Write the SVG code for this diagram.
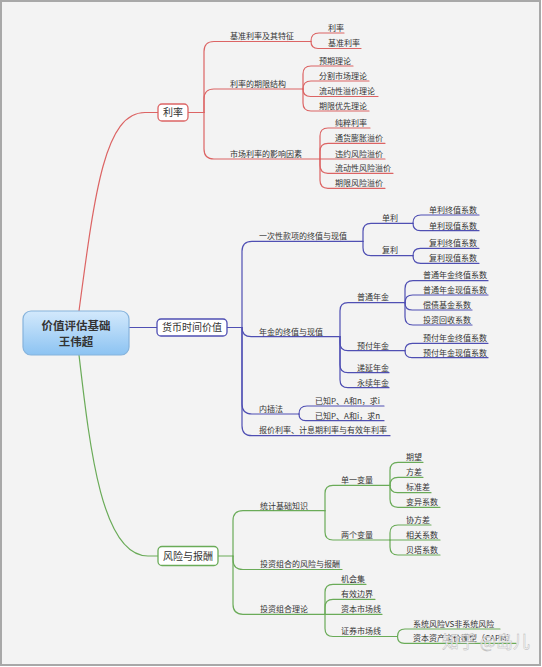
<svg xmlns="http://www.w3.org/2000/svg" width="542" height="667" viewBox="0 0 542 667">
<defs>
<linearGradient id="rootg" x1="0" y1="0" x2="0" y2="1">
<stop offset="0" stop-color="#d3e9fc"/>
<stop offset="1" stop-color="#8cc3f2"/>
</linearGradient>
</defs>
<style>
.c{fill:none;stroke-width:1.2;stroke-linecap:round}
.r{stroke:#dc6464}
.b{stroke:#4f4fb3}
.g{stroke:#6aab58}
text{font-family:"Noto Sans CJK SC","Noto Sans",sans-serif;fill:#333}
.t{font-size:8px}
.n{font-size:10px;text-anchor:middle}
.box{fill:#fff;stroke-width:1.3}
</style>
<rect x="1" y="1" width="539" height="664" fill="#f3f3f3" stroke="#a8a8a8" stroke-width="2"/>
<g id="connectors">
<g class="c r">
<path d="M79 311C95 190 105 112.5 145 112.5H158"/>
<path d="M188 112.5H204"/>
<path d="M204 112.5V51.5Q204 41.5 214 41.5H311"/>
<path d="M204 112.5V99Q204 89 214 89H303"/>
<path d="M204 112.5V149Q204 159 214 159H320"/>
<path d="M311 41.5V41Q311 33 319 33H344"/>
<path d="M311 41.5Q311 48.5 318 48.5H361"/>
<path d="M303 89V74Q303 66 311 66H353"/>
<path d="M303 89Q303 81 311 81H369"/>
<path d="M303 89Q303 96.5 310.5 96.5H378"/>
<path d="M303 89V103Q303 111 311 111H369"/>
<path d="M320 159V136Q320 128 328 128H370"/>
<path d="M320 159V151.3Q320 143.3 328 143.3H385"/>
<path d="M320 159H385"/>
<path d="M320 159V165.3Q320 173.3 328 173.3H393"/>
<path d="M320 159V180.3Q320 188.3 328 188.3H385"/>
</g>
<g class="c b">
<path d="M129 327.5H157"/>
<path d="M227 327.5H242"/>
<path d="M242 327.5V251.3Q242 241.3 252 241.3H363"/>
<path d="M242 327.5Q242 336.7 251.2 336.7H340"/>
<path d="M242 327.5V404Q242 414 252 414H299"/>
<path d="M242 327.5V425.7Q242 435.7 252 435.7H390"/>
<path d="M363 241.3V231.3Q363 223.3 371 223.3H413"/>
<path d="M363 241.3V247.7Q363 255.7 371 255.7H413"/>
<path d="M413 223.3V223Q413 215 421 215H479"/>
<path d="M413 223.3Q413 230.7 420.4 230.7H479"/>
<path d="M413 255.7Q413 248.3 420.4 248.3H479"/>
<path d="M413 255.7Q413 263.3 420.6 263.3H479"/>
<path d="M340 336.7V310.7Q340 302.7 348 302.7H405"/>
<path d="M340 336.7V342.7Q340 350.7 348 350.7H405"/>
<path d="M340 336.7V364.7Q340 372.7 348 372.7H389"/>
<path d="M340 336.7V379.7Q340 387.7 348 387.7H389"/>
<path d="M405 302.7V288.7Q405 280.7 413 280.7H488"/>
<path d="M405 302.7Q405 295 412.7 295H488"/>
<path d="M405 302.7Q405 310 412.3 310H472"/>
<path d="M405 302.7V317Q405 325 413 325H472"/>
<path d="M405 350.7Q405 343.3 412.4 343.3H488"/>
<path d="M405 350.7Q405 357.7 412 357.7H488"/>
<path d="M299 414Q299 406 307 406H384"/>
<path d="M299 414Q299 420.7 305.7 420.7H384"/>
</g>
<g class="c g">
<path d="M79 355C90 450 102 556 148 556H158"/>
<path d="M218 556H233"/>
<path d="M233 556V520.7Q233 510.7 243 510.7H325"/>
<path d="M233 556V559.5Q233 569.5 243 569.5H342"/>
<path d="M233 556V604.3Q233 614.3 243 614.3H325"/>
<path d="M325 510.7V493.3Q325 485.3 333 485.3H390"/>
<path d="M325 510.7V532Q325 540 333 540H390"/>
<path d="M390 485.3V470.3Q390 462.3 398 462.3H423"/>
<path d="M390 485.3Q390 477.3 398 477.3H423"/>
<path d="M390 485.3Q390 492.7 397.4 492.7H431"/>
<path d="M390 485.3V499.3Q390 507.3 398 507.3H440"/>
<path d="M390 540V533Q390 525 398 525H431"/>
<path d="M390 540H440"/>
<path d="M390 540V547Q390 555 398 555H440"/>
<path d="M325 614.3V592.3Q325 584.3 333 584.3H366"/>
<path d="M325 614.3V607.3Q325 599.3 333 599.3H375"/>
<path d="M325 614.3H382"/>
<path d="M325 614.3V628.5Q325 636.5 333 636.5H397.5"/>
<path d="M397.5 636.5Q397.5 629 405 629H500"/>
<path d="M397.5 636.5Q397.5 643.3 404.3 643.3H516"/>
</g>
</g>
<g id="root">
<rect x="23" y="311" width="106" height="44" rx="8" fill="url(#rootg)" stroke="#86b3dc" stroke-width="1.2"/>
<text x="76" y="329.5" font-size="11.5" font-weight="bold" text-anchor="middle">价值评估基础</text>
<text x="76" y="346" font-size="11.5" font-weight="bold" text-anchor="middle">王伟超</text>
</g>
<g id="n1"><rect class="box" x="158" y="104" width="30" height="17" rx="4" stroke="#dc6464"/><text class="n" x="173" y="116">利率</text></g>
<g id="n1-1"><text class="t" x="230" y="39">基准利率及其特征</text></g>
<g id="n1-1-1"><text class="t" x="328" y="31">利率</text></g>
<g id="n1-1-2"><text class="t" x="328" y="46">基准利率</text></g>
<g id="n1-2"><text class="t" x="230" y="86.5">利率的期限结构</text></g>
<g id="n1-2-1"><text class="t" x="319" y="64">预期理论</text></g>
<g id="n1-2-2"><text class="t" x="319" y="79">分割市场理论</text></g>
<g id="n1-2-3"><text class="t" x="319" y="94">流动性溢价理论</text></g>
<g id="n1-2-4"><text class="t" x="319" y="109">期限优先理论</text></g>
<g id="n1-3"><text class="t" x="230" y="156.5">市场利率的影响因素</text></g>
<g id="n1-3-1"><text class="t" x="335" y="126">纯粹利率</text></g>
<g id="n1-3-2"><text class="t" x="335" y="141.3">通货膨胀溢价</text></g>
<g id="n1-3-3"><text class="t" x="335" y="156.5">违约风险溢价</text></g>
<g id="n1-3-4"><text class="t" x="335" y="171.3">流动性风险溢价</text></g>
<g id="n1-3-5"><text class="t" x="335" y="186.3">期限风险溢价</text></g>
<g id="n2"><rect class="box" x="157" y="319" width="70" height="17" rx="4" stroke="#4f4fb3"/><text class="n" x="192" y="331">货币时间价值</text></g>
<g id="n2-1"><text class="t" x="259" y="238.7">一次性款项的终值与现值</text></g>
<g id="n2-1-1"><text class="t" x="382" y="221">单利</text></g>
<g id="n2-1-1-1"><text class="t" x="429" y="213">单利终值系数</text></g>
<g id="n2-1-1-2"><text class="t" x="429" y="228.5">单利现值系数</text></g>
<g id="n2-1-2"><text class="t" x="382" y="253.3">复利</text></g>
<g id="n2-1-2-1"><text class="t" x="429" y="246">复利终值系数</text></g>
<g id="n2-1-2-2"><text class="t" x="429" y="261">复利现值系数</text></g>
<g id="n2-2"><text class="t" x="259" y="334.5">年金的终值与现值</text></g>
<g id="n2-2-1"><text class="t" x="357" y="300.3">普通年金</text></g>
<g id="n2-2-1-1"><text class="t" x="423" y="278.3">普通年金终值系数</text></g>
<g id="n2-2-1-2"><text class="t" x="423" y="292.7">普通年金现值系数</text></g>
<g id="n2-2-1-3"><text class="t" x="423" y="307.7">偿债基金系数</text></g>
<g id="n2-2-1-4"><text class="t" x="423" y="322.7">投资回收系数</text></g>
<g id="n2-2-2"><text class="t" x="357" y="348.5">预付年金</text></g>
<g id="n2-2-2-1"><text class="t" x="423" y="341">预付年金终值系数</text></g>
<g id="n2-2-2-2"><text class="t" x="423" y="355.5">预付年金现值系数</text></g>
<g id="n2-2-3"><text class="t" x="357" y="370.5">递延年金</text></g>
<g id="n2-2-4"><text class="t" x="357" y="385.5">永续年金</text></g>
<g id="n2-3"><text class="t" x="259" y="411.8">内插法</text></g>
<g id="n2-3-1"><text class="t" x="315" y="403.8">已知P、A和n，求i</text></g>
<g id="n2-3-2"><text class="t" x="315" y="418.5">已知P、A和i，求n</text></g>
<g id="n2-4"><text class="t" x="259" y="433.3">报价利率、计息期利率与有效年利率</text></g>
<g id="n3"><rect class="box" x="158" y="546.5" width="60" height="19" rx="4" stroke="#6aab58"/><text class="n" x="188" y="560" font-size="10.5">风险与报酬</text></g>
<g id="n3-1"><text class="t" x="260" y="508.5">统计基础知识</text></g>
<g id="n3-1-1"><text class="t" x="341" y="483.3">单一变量</text></g>
<g id="n3-1-1-1"><text class="t" x="406" y="460">期望</text></g>
<g id="n3-1-1-2"><text class="t" x="406" y="475">方差</text></g>
<g id="n3-1-1-3"><text class="t" x="406" y="490.3">标准差</text></g>
<g id="n3-1-1-4"><text class="t" x="406" y="505">变异系数</text></g>
<g id="n3-1-2"><text class="t" x="341" y="537.8">两个变量</text></g>
<g id="n3-1-2-1"><text class="t" x="406" y="522.8">协方差</text></g>
<g id="n3-1-2-2"><text class="t" x="406" y="537.8">相关系数</text></g>
<g id="n3-1-2-3"><text class="t" x="406" y="552.8">贝塔系数</text></g>
<g id="n3-2"><text class="t" x="260" y="567.2">投资组合的风险与报酬</text></g>
<g id="n3-3"><text class="t" x="260" y="612">投资组合理论</text></g>
<g id="n3-3-1"><text class="t" x="341" y="582">机会集</text></g>
<g id="n3-3-2"><text class="t" x="341" y="597">有效边界</text></g>
<g id="n3-3-3"><text class="t" x="341" y="612">资本市场线</text></g>
<g id="n3-3-4"><text class="t" x="341" y="634.3">证券市场线</text></g>
<g id="n3-3-4-1"><text class="t" x="413" y="626.8">系统风险VS非系统风险</text></g>
<g id="n3-3-4-2"><text class="t" x="413" y="641">资本资产定价模型（CAPM）</text></g>
<text x="442" y="648" font-size="17" fill="#ffffff" fill-opacity="0.85" stroke="#b0b0b0" stroke-width="0.4" style="fill:#fff">知乎 @岛儿</text>
</svg>
